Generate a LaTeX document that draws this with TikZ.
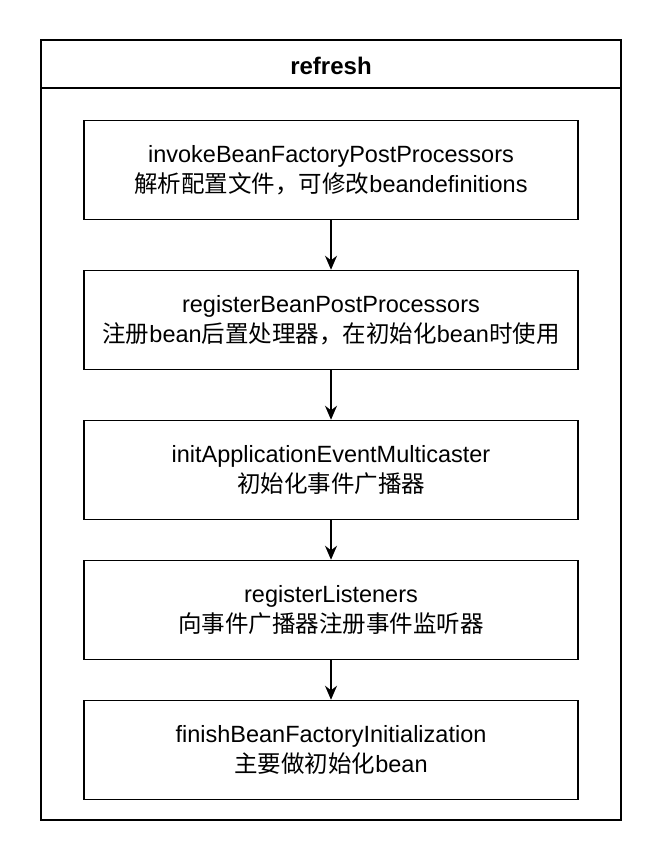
\documentclass[tikz,border=0pt]{standalone}
\usepackage{fontspec}
\setmainfont{Liberation Sans}
\newfontfamily\cjk{Noto Sans CJK SC}
\usetikzlibrary{arrows.meta}
\begin{document}
\begin{tikzpicture}[x=1pt,y=-1pt,
  box/.style={draw,line width=1.5pt,minimum width=494pt,minimum height=99pt,align=center,font=\fontsize{23.5}{30}\selectfont,inner sep=0pt},
  arr/.style={draw,line width=1.5pt,-{Stealth[length=14pt,width=12pt]}}]
\useasboundingbox (0,0) rectangle (662,862);
\draw[line width=1.5pt] (41,40) rectangle (621,820);
\draw[line width=1.5pt] (41,88) -- (621,88);
\node[font=\fontsize{24}{28}\selectfont\bfseries] (t) at (331,66) {refresh};
\node[box] (b1) at (331,170) {invokeBeanFactoryPostProcessors\\{\cjk 解析配置文件，可修改}beandefinitions};
\node[box] (b2) at (331,320) {registerBeanPostProcessors\\{\cjk 注册}bean{\cjk 后置处理器，在初始化}bean{\cjk 时使用}};
\node[box] (b3) at (331,470) {initApplicationEventMulticaster\\{\cjk 初始化事件广播器}};
\node[box] (b4) at (331,610) {registerListeners\\{\cjk 向事件广播器注册事件监听器}};
\node[box] (b5) at (331,750) {finishBeanFactoryInitialization\\{\cjk 主要做初始化}bean};
\draw[arr] (b1) -- (b2);
\draw[arr] (b2) -- (b3);
\draw[arr] (b3) -- (b4);
\draw[arr] (b4) -- (b5);
\end{tikzpicture}
\end{document}
